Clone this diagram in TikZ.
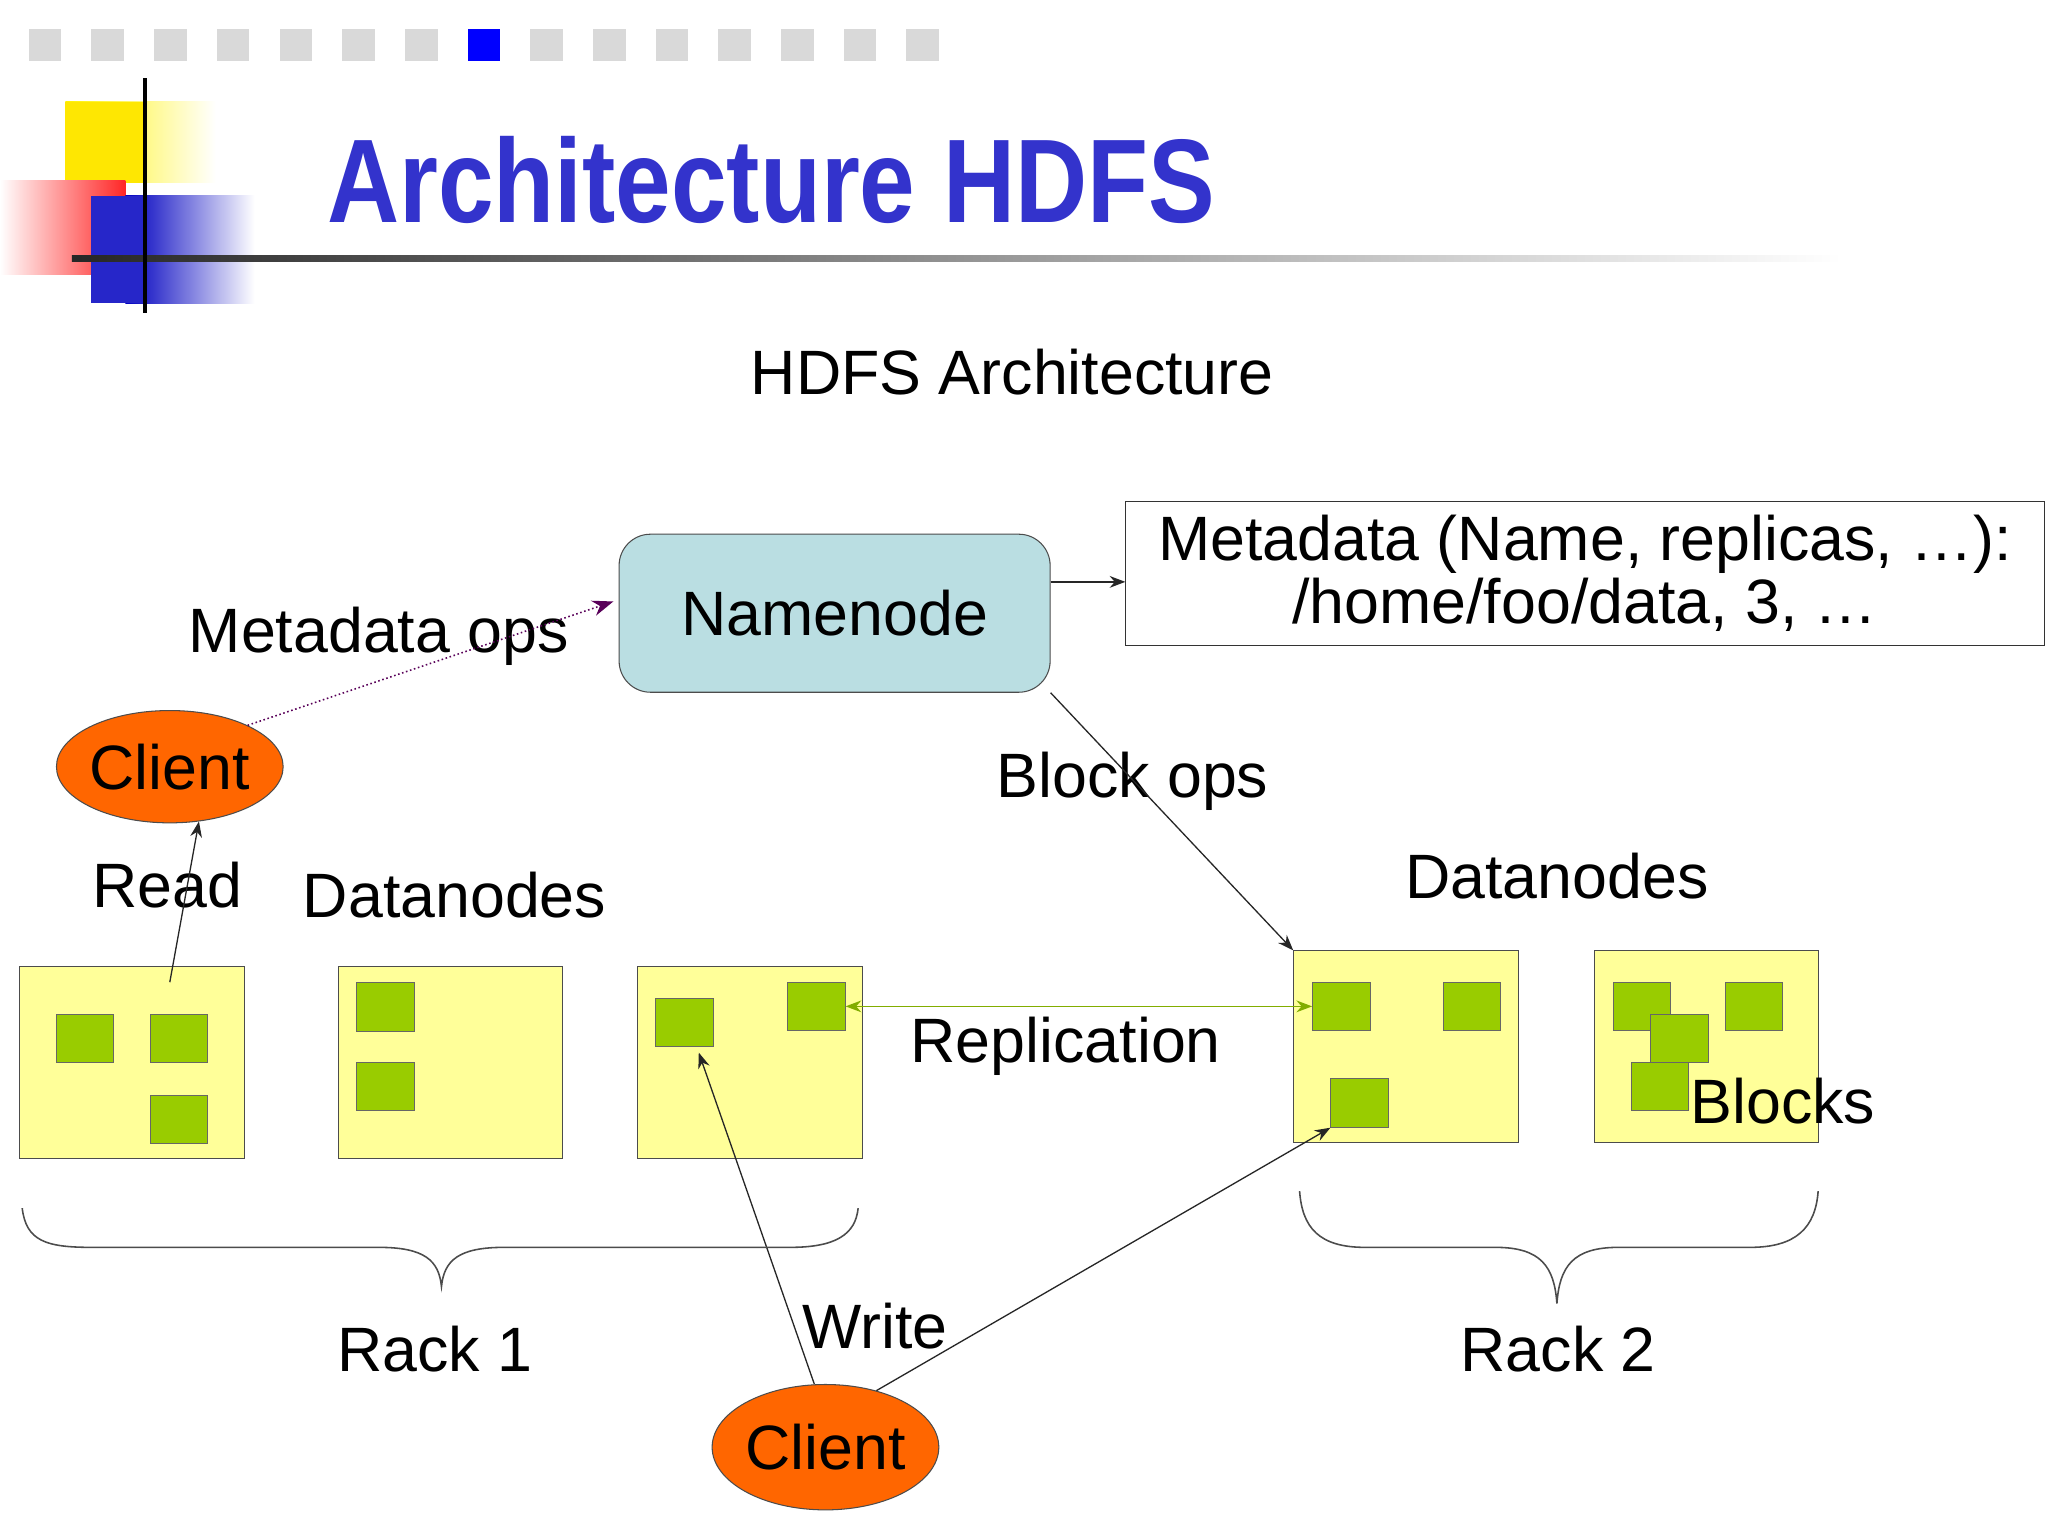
\documentclass[tikz,border=0pt]{standalone}
\usepackage{fontspec}
\setmainfont{Liberation Sans}
\usetikzlibrary{arrows.meta,shapes.geometric,calc}
\definecolor{ttl}{RGB}{51,51,204}
\definecolor{nn}{RGB}{186,222,226}
\definecolor{dn}{RGB}{255,255,153}
\definecolor{blk}{RGB}{153,204,0}
\definecolor{cl}{RGB}{255,102,0}
\begin{document}
\begin{tikzpicture}[x=0.5pt,y=-0.5pt,
  lbl/.style={font=\fontsize{24}{26}\selectfont,inner sep=0},
  dnode/.style={draw=black!70,fill=dn,minimum width=86pt,minimum height=73.5pt,inner sep=0},
  sq/.style={draw=black!60,fill=blk,minimum width=22pt,minimum height=18.5pt,inner sep=0},
  client/.style={ellipse,draw=black!70,fill=cl,minimum width=86pt,minimum height=43pt,font=\fontsize{24}{26}\selectfont,inner sep=0},
  arr/.style={-{Stealth[length=6pt,width=4.5pt]},black!85,line width=0.5pt},
  brace/.style={black!70,line width=0.6pt}]
\useasboundingbox (0,0) rectangle (1568,1176);
\fill[white] (0,0) rectangle (1568,1176);
% progress squares
\foreach \i in {0,...,14}{
  \ifnum\i=7 \fill[blue] ({22+\i*48},22) rectangle ++(25,25);
  \else \fill[black!15] ({22+\i*48},22) rectangle ++(25,25); \fi}
% decoration
\shade[left color=yellow!90!orange,right color=white] (50,78) rectangle (165,140);
\fill[yellow!90!orange] (50,78) rectangle (110,140);
\shade[left color=white,right color=red!85] (0,138) rectangle (96,210);
\shade[left color=blue!75!black,right color=white] (96,150) rectangle (195,232);
\fill[blue!75!black!85] (70,150) rectangle (110,232);
\shade[left color=black!85,right color=white] (55,196) rectangle (1410,200);
\draw[black,line width=1.5pt] (111,60) -- (111,240);
% title
\node[anchor=base west,inner sep=0,text=ttl] (title) at (250,170)
  {\resizebox{340pt}{33pt}{\bfseries Architecture HDFS}};
\node[lbl] (sub) at (775,285) {HDFS Architecture};
% namenode and metadata
\node[draw=black!70,fill=nn,rounded corners=12pt,minimum width=165pt,minimum height=60.5pt,lbl] (namenode) at (639,469.5) {Namenode};
\node[draw=black!80,minimum width=351.5pt,minimum height=55pt,align=center,lbl] (meta) at (1213.5,439)
  {Metadata (Name, replicas, \dots):\\[-2pt]/home/foo/data, 3, \dots};
\draw[arr] ($(namenode.east)+(0,-24)$) -- (meta.west |- {$(namenode.east)+(0,-24)$});
% clients
\node[client] (c1) at (130,587) {Client};
\node[client,minimum height=48pt] (c2) at (632,1108) {Client};
\node[lbl] (mops) at (290,487) {Metadata ops};
\draw[densely dotted,draw=violet!70!black,-{Stealth[length=8pt,width=6pt]},line width=0.6pt] (c1.28) -- ($(namenode.west)+(-4,-9)$);
% datanodes rack 1
\node[dnode] (b1) at (101,813.5) {};
\node[dnode] (b2) at (345,813.5) {};
\node[dnode] (b3) at (574,813.5) {};
\node[sq] (s1a) at (65,795) {};
\node[sq] (s1b) at (137,795) {};
\node[sq] (s1c) at (137,857) {};
\node[sq] (s2a) at (295,771) {};
\node[sq] (s2b) at (295,832) {};
\node[sq] (s3a) at (524,783) {};
\node[sq] (s3b) at (625,770.5) {};
% rack 2
\node[dnode] (b4) at (1076.5,801.5) {};
\node[dnode] (b5) at (1306.5,801.5) {};
\node[sq] (s4a) at (1027,770.5) {};
\node[sq] (s4b) at (1127,770.5) {};
\node[sq] (s4c) at (1041,844.5) {};
\node[sq] (s5a) at (1257,770.5) {};
\node[sq] (s5b) at (1343,770.5) {};
\node[sq] (s5c) at (1286,795) {};
\node[sq] (s5d) at (1271,832) {};
% labels
\node[lbl] (read) at (128,678) {Read};
\node[lbl] (dn1) at (348,685) {Datanodes};
\node[lbl] (dn2) at (1192,671) {Datanodes};
\node[lbl] (bops) at (867,598) {Block ops};
\node[lbl] (repl) at (816,801) {Replication};
\node[lbl] (blocks) at (1365,843) {Blocks};
\node[lbl] (r1) at (333,1033) {Rack 1};
\node[lbl] (r2) at (1193,1033) {Rack 2};
\node[lbl] (write) at (670,1015) {Write};
% connectors
\coordinate (rd) at (130,752);
\draw[arr] (rd) -- (c1.-62);
\draw[arr] (namenode.south east) -- (b4.north west);
\draw[{Stealth[length=6pt,width=4.5pt]}-{Stealth[length=6pt,width=4.5pt]},draw=blk!85!black,line width=0.6pt] (s3b.east) -- (s4a.west);
\draw[arr] (c2.100) -- ($(s3a.south)+(11,4)$);
\draw[arr] (c2.48) -- (s4c.south west);
% braces
\draw[brace] (17,925) .. controls (20,950) and (35,955) .. (70,955) -- (290,955)
  .. controls (325,955) and (336,965) .. (338,985)
  .. controls (340,965) and (351,955) .. (386,955) -- (605,955)
  .. controls (640,955) and (655,945) .. (657,925);
\draw[brace] (995,912) .. controls (997,940) and (1010,955) .. (1045,955) -- (1145,955)
  .. controls (1180,955) and (1190,970) .. (1192,998)
  .. controls (1194,970) and (1204,955) .. (1239,955) -- (1340,955)
  .. controls (1375,955) and (1390,940) .. (1392,912);
\end{tikzpicture}
\end{document}
